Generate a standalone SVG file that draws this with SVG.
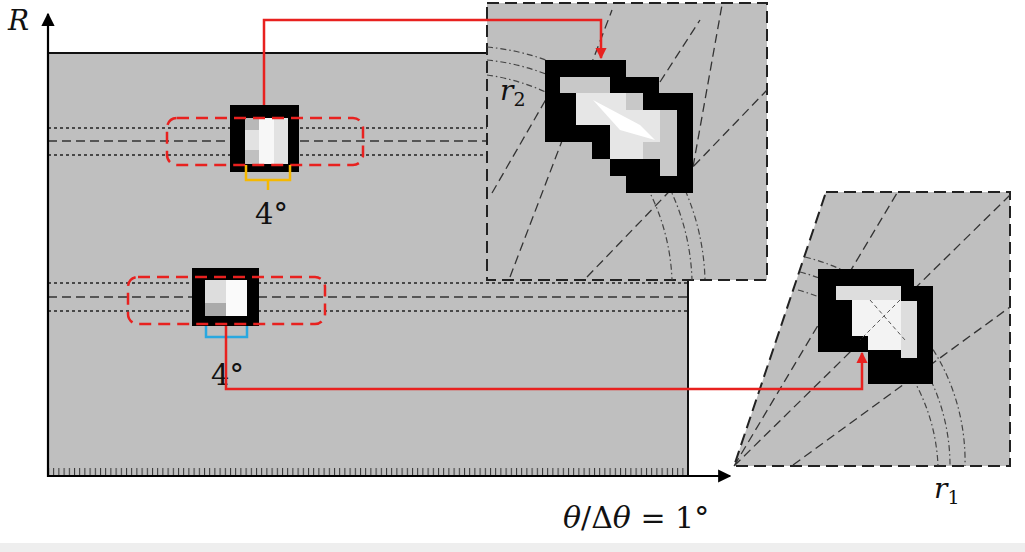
<svg xmlns="http://www.w3.org/2000/svg" width="1025" height="552" viewBox="0 0 1025 552">
<defs>
<style>
.dot{stroke:#222;stroke-width:1.3;stroke-dasharray:3 3;fill:none}
.dsh{stroke:#333;stroke-width:1.3;stroke-dasharray:9 5;fill:none}
.arc{stroke:#444;stroke-width:1.2;stroke-dasharray:6 3 1.5 3;fill:none}
.brd{stroke:#222;stroke-width:2;stroke-dasharray:12 6;fill:#bfbfbf}
.red{stroke:#e8211f;stroke-width:2.5;fill:none}
.rbox{stroke:#e8211f;stroke-width:2.5;stroke-dasharray:12 7;fill:none}
.t{font-family:'DejaVu Serif','Liberation Serif',serif;fill:#111}
</style>
<marker id="ra" viewBox="0 0 10 10" refX="9" refY="5" markerWidth="4.5" markerHeight="4.5" orient="auto"><path d="M0,0L10,5L0,10z" fill="#e8211f"/></marker>
<marker id="ka" viewBox="0 0 10 10" refX="9" refY="5" markerWidth="6" markerHeight="6" orient="auto"><path d="M0,0L10,5L0,10z" fill="#000"/></marker>
<pattern id="tk" x="48" y="0" width="5.2" height="552" patternUnits="userSpaceOnUse"><rect x="0" y="468" width="1" height="8" fill="#333"/></pattern>
</defs>
<rect width="1025" height="552" fill="#fff"/>
<rect x="0" y="543" width="1025" height="9" fill="#eee"/>
<g id="main">
<rect x="48" y="53" width="640" height="423" fill="#bfbfbf"/>
<rect x="48" y="466" width="640" height="10" fill="url(#tk)"/>
<path d="M48,53H488M688,280V476" stroke="#111" stroke-width="2" fill="none"/>
<path class="dot" d="M48,128H487M48,155H487M48,283H688M48,311H688"/>
<path class="dsh" d="M48,141H487M48,297H688" stroke-dasharray="6 4"/>
</g>
<g id="axes">
<path d="M48,477V14" stroke="#000" stroke-width="2.2" marker-end="url(#ka)"/>
<path d="M47,476H730" stroke="#000" stroke-width="2.2" marker-end="url(#ka)"/>
<text class="t" x="8" y="30" font-size="28" font-style="italic">R</text>
<text class="t" x="563" y="528" font-size="30"><tspan font-style="italic">θ</tspan>/Δ<tspan font-style="italic">θ</tspan> = 1°</text>
</g>
<g id="cell-upper">
<rect x="230" y="105" width="69" height="67" fill="#000"/>
<rect x="245" y="118" width="43" height="46" fill="#e2e2e2"/>
<rect x="259" y="118" width="15" height="46" fill="#f7f7f7"/>
<rect x="245" y="118" width="14" height="12" fill="#b8b8b8"/>
<rect x="245" y="150" width="14" height="14" fill="#c0c0c0"/>
<rect class="rbox" x="167" y="118" width="196" height="47" rx="10"/>
<path d="M246,165V180H290V165M268,180V190" stroke="#f5b800" stroke-width="2.5" fill="none"/>
<text class="t" x="255" y="224" font-size="29">4°</text>
</g>
<g id="cell-lower">
<rect x="192" y="268" width="67" height="58" fill="#000"/>
<rect x="205" y="280" width="42" height="36" fill="#ddd"/>
<rect x="226" y="280" width="21" height="36" fill="#fafafa"/>
<rect x="205" y="303" width="21" height="13" fill="#aaa"/>
<rect class="rbox" x="128" y="277" width="197" height="47" rx="10"/>
<path d="M206,326V337H247V326" stroke="#29a8e0" stroke-width="2.5" fill="none"/>
<text class="t" x="211" y="385" font-size="29">4°</text>
</g>
<g id="inset-r2">
<rect class="brd" x="487" y="3" width="280" height="277"/>
<path class="dsh" d="M510,277L612,10M492,193L560,75M587,277L767,90M693,167L722,5M660,82L700,20"/>
<path class="arc" d="M487,47A240,240 0 0 1 705,280M487,75A215,215 0 0 1 672,280" stroke-dasharray="3 3"/>
<path class="arc" d="M487,60A228,228 0 0 1 692,280"/>
<path d="M545,60H626V77H659V93H693V193H626V176H610V159H592V142H545Z" fill="#000"/>
<path d="M560,77H610V93H643V110H677V176H660V159H626V142H610V125H576V93H560Z" fill="#c8c8c8"/>
<path d="M576,93H626V110H660V142H643V159H610V125H576Z" fill="#e6e6e6"/>
<path d="M593,100L640,125L655,140L620,130Z" fill="#fff"/>
<text class="t" x="500" y="100" font-size="28" font-style="italic">r<tspan font-size="19" dy="6" font-style="normal">2</tspan></text>
</g>
<g id="inset-r1">
<path class="brd" d="M826,192H1010V466H734Z"/>
<path class="dsh" d="M734,466L1010,195M734,466L897,193M793,465L1010,307"/>
<path class="arc" d="M805,257A210,210 0 0 1 965,466M800,272A200,200 0 0 1 950,466M798,290A190,190 0 0 1 938,466"/>
<path d="M818,269H914V286H933V384H868V352H818Z" fill="#000"/>
<path d="M836,286H901V301H917V358H901V350H868V336H852V300H836Z" fill="#ddd"/>
<path d="M852,300H901V350H868V336H852Z" fill="#f3f3f3"/>
<path d="M870,300L905,340M900,300L860,340" stroke="#555" stroke-width="1" stroke-dasharray="4 3"/>
<text class="t" x="934" y="498" font-size="28" font-style="italic">r<tspan font-size="19" dy="6" font-style="normal">1</tspan></text>
</g>
<g id="connectors">
<path class="red" d="M264,105V20H601V58" marker-end="url(#ra)"/>
<path class="red" d="M226,326V389H862V353" marker-end="url(#ra)"/>
</g>
</svg>
